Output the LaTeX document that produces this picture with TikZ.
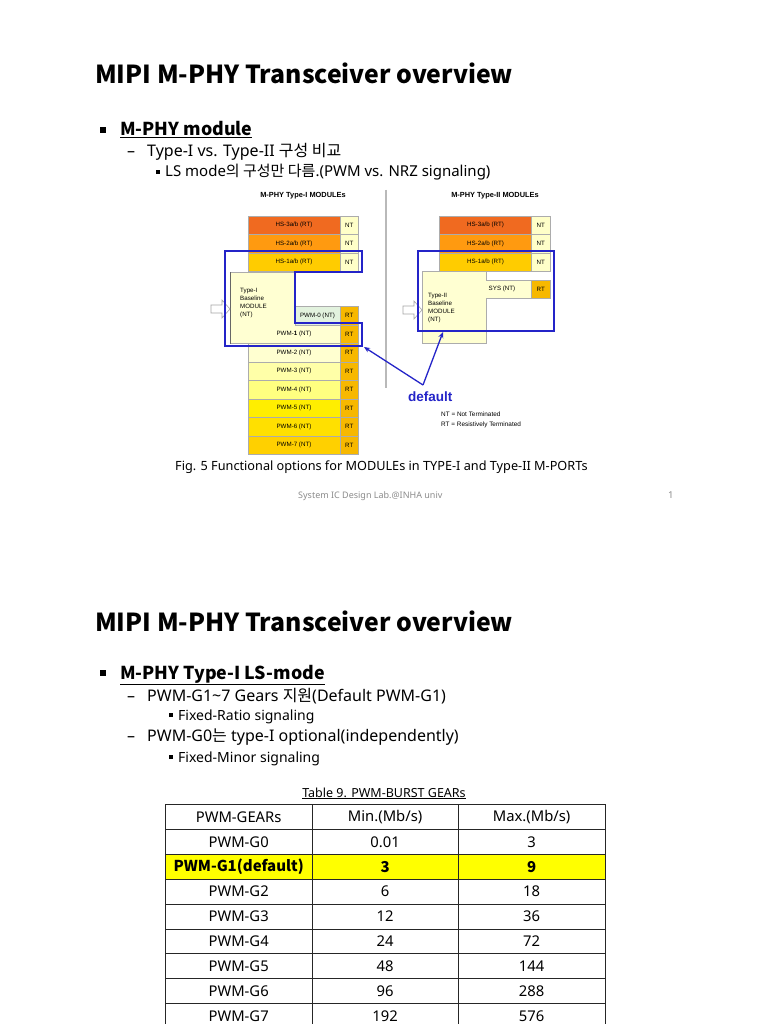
\documentclass[tikz,border=0pt]{standalone}
\usepackage{fontspec}
\setmainfont{Noto Sans}
\newfontfamily\kr{Noto Sans CJK KR}
\newfontfamily\arialfont{Liberation Sans}
\usetikzlibrary{matrix,arrows.meta}
\definecolor{cblue}{HTML}{2424C8}
\definecolor{cgrey}{HTML}{8C8C8C}
\definecolor{cream}{HTML}{FFFFD2}
\definecolor{mint}{HTML}{E2F2DE}
\definecolor{hsthree}{HTML}{F06A20}
\definecolor{hstwo}{HTML}{FF9A10}
\definecolor{hsone}{HTML}{FFCC00}
\definecolor{ntcol}{HTML}{FFFFC8}
\definecolor{rtcol}{HTML}{F7B800}
\definecolor{pwmtwo}{HTML}{FFFFD0}
\definecolor{pwmthree}{HTML}{FFFFA8}
\definecolor{pwmfour}{HTML}{FFFF80}
\definecolor{pwmfive}{HTML}{FFEE00}
\definecolor{pwmsix}{HTML}{FFE000}
\definecolor{pwmseven}{HTML}{FFD000}
\definecolor{hiyellow}{HTML}{FFFF00}

\begin{document}
\begin{tikzpicture}[x=1pt,y=-1pt,
  stitle/.style={anchor=base west,inner sep=0,font=\kr\fontsize{24.8}{30}\selectfont\bfseries},
  lvlone/.style={anchor=base west,inner sep=0,font=\kr\fontsize{17.8}{20}\selectfont\bfseries},
  lvltwo/.style={anchor=base west,inner sep=0,font=\fontsize{16}{18}\selectfont},
  lvlthree/.style={anchor=base west,inner sep=0,font=\fontsize{14}{16}\selectfont},
  modbox/.style={draw=gray!65,line width=0.4pt,minimum width=92pt,minimum height=18.5pt,
    inner sep=0,font=\arialfont\fontsize{6.2}{7}\selectfont},
  termbox/.style={modbox,minimum width=18.5pt},
  basetext/.style={anchor=north west,inner sep=0,align=left,
    font=\arialfont\fontsize{6.2}{8}\selectfont},
  outline/.style={cblue,line width=1.4pt},
  blockarrow/.style={draw=gray!70,fill=white,line width=0.6pt},
  pointer/.style={cblue,line width=1.3pt,-{Stealth[length=6pt,width=5pt]}}]
  \useasboundingbox[fill=white] (0,0) rectangle (768,1024);

  % slide 1
  \node[stitle] (t1) at (95,84) {MIPI M-PHY Transceiver overview};
  \node[lvlone] (a1) at (100,136) {\rule[3pt]{6pt}{6pt}\hspace{14pt}\underline{M-PHY module}};
  \node[lvltwo] (a2) at (127,157) {–\hspace{12pt}Type-I vs. Type-II {\kr 구성 비교}};
  \node[lvlthree,font=\fontsize{15}{17}\selectfont] (a3) at (156,177) {\rule[3pt]{4pt}{4pt}\hspace{5pt}LS mode{\kr 의 구성만 다름}.(PWM vs. NRZ signaling)};

  % Type-I modules
  \node[font=\arialfont\bfseries\fontsize{7.4}{8}\selectfont] (ltitle) at (303,196) {M-PHY Type-I MODULEs};
  \node[modbox,fill=hsthree] (lhs3) at (294,225.25) {HS-3a/b (RT)};
  \node[termbox,fill=ntcol] (lhs3t) at (349.25,225.25) {NT};
  \node[modbox,fill=hstwo] (lhs2) at (294,243.75) {HS-2a/b (RT)};
  \node[termbox,fill=ntcol] (lhs2t) at (349.25,243.75) {NT};
  \node[modbox,fill=hsone] (lhs1) at (294,262.25) {HS-1a/b (RT)};
  \node[termbox,fill=ntcol] (lhs1t) at (349.25,262.25) {NT};
  \node[modbox,fill=pwmtwo] (lp2) at (294,352.75) {PWM-2 (NT)};
  \node[termbox,fill=rtcol] (lp2t) at (349.25,352.75) {RT};
  \node[modbox,fill=pwmthree] (lp3) at (294,371.25) {PWM-3 (NT)};
  \node[termbox,fill=rtcol] (lp3t) at (349.25,371.25) {RT};
  \node[modbox,fill=pwmfour] (lp4) at (294,389.75) {PWM-4 (NT)};
  \node[termbox,fill=rtcol] (lp4t) at (349.25,389.75) {RT};
  \node[modbox,fill=pwmfive] (lp5) at (294,408.25) {PWM-5 (NT)};
  \node[termbox,fill=rtcol] (lp5t) at (349.25,408.25) {RT};
  \node[modbox,fill=pwmsix] (lp6) at (294,426.75) {PWM-6 (NT)};
  \node[termbox,fill=rtcol] (lp6t) at (349.25,426.75) {RT};
  \node[modbox,fill=pwmseven] (lp7) at (294,445.25) {PWM-7 (NT)};
  \node[termbox,fill=rtcol] (lp7t) at (349.25,445.25) {RT};
  \draw[draw=gray!65,fill=cream] (230,272) -- (295,272) -- (295,325) -- (340,325)
    -- (340,343.5) -- (230,343.5) -- cycle;
  \draw[gray!80!black,line width=0.8pt] (230,272) -- (230,343.5);
  \node[modbox,fill=mint,minimum width=45pt] (lp0) at (317.5,315.75) {PWM-0 (NT)};
  \node[termbox,fill=rtcol] (lp0t) at (349.25,315.75) {RT};
  \node[modbox,draw=none] (lp1) at (294,334.25) {PWM-\textbf{1} (NT)};
  \node[termbox,fill=rtcol] (lp1t) at (349.25,334.25) {RT};
  \node[basetext] (lbase) at (240,288) {Type-I\\Baseline\\MODULE\\(NT)};
  \draw[blockarrow] (211,305) -- (222,305) -- (222,300) -- (230,309) -- (222,318)
    -- (222,313) -- (211,313) -- cycle;
  \draw[outline] (225,251) -- (362,251) -- (362,272) -- (295,272) -- (295,323)
    -- (362,323) -- (362,346) -- (225,346) -- cycle;

  \draw[gray!55,line width=1.2pt] (386,190) -- (386,388);

  % Type-II modules
  \node[font=\arialfont\bfseries\fontsize{7.4}{8}\selectfont] (rtitle) at (495,196) {M-PHY Type-II MODULEs};
  \node[modbox,fill=hsthree] (rhs3) at (485.5,225.25) {HS-3a/b (RT)};
  \node[termbox,fill=ntcol] (rhs3t) at (540.75,225.25) {NT};
  \node[modbox,fill=hstwo] (rhs2) at (485.5,243.75) {HS-2a/b (RT)};
  \node[termbox,fill=ntcol] (rhs2t) at (540.75,243.75) {NT};
  \node[modbox,fill=hsone] (rhs1) at (485.5,262.25) {HS-1a/b (RT)};
  \node[termbox,fill=ntcol] (rhs1t) at (540.75,262.25) {NT};
  \draw[draw=gray!65,fill=cream] (422,271.5) -- (486,271.5) -- (486,280) -- (531.5,280)
    -- (531.5,298) -- (486,298) -- (486,343.5) -- (422,343.5) -- cycle;
  \node[inner sep=0,font=\arialfont\fontsize{6.2}{7}\selectfont] (rsys) at (502,289) {SYS (NT)};
  \node[termbox,fill=rtcol,minimum height=18pt] (rsyst) at (540.75,289) {RT};
  \node[basetext] (rbase) at (428,293) {Type-II\\Baseline\\MODULE\\(NT)};
  \draw[blockarrow] (403,306) -- (414,306) -- (414,301) -- (422,310) -- (414,319)
    -- (414,314) -- (403,314) -- cycle;
  \draw[outline] (418,251) rectangle (554,331);

  \node[anchor=base west,inner sep=0,text=cblue,font=\arialfont\bfseries\fontsize{13.5}{15}\selectfont] (dflt) at (408,401) {default};
  \coordinate (dv) at (423,385);
  \coordinate (dl) at (364,347);
  \coordinate (dr) at (443,332);
  \draw[pointer] (dv) -- (dl);
  \draw[pointer] (dv) -- (dr);
  \node[basetext,font=\arialfont\fontsize{6.4}{9.5}\selectfont] (legend) at (441,412) {NT = Not Terminated\\RT = Resistively Terminated};

  \node[anchor=base west,inner sep=0,font=\fontsize{12.7}{14}\selectfont] (cap) at (175,470) {Fig. 5 Functional options for MODULEs in TYPE-I and Type-II M-PORTs};
  \node[anchor=base west,inner sep=0,text=cgrey,font=\fontsize{9}{10}\selectfont] (foot) at (298,498) {System IC Design Lab.@INHA univ};
  \node[anchor=base west,inner sep=0,text=cgrey,font=\fontsize{9.5}{10}\selectfont] (page) at (668,498) {1};

  % slide 2
  \node[stitle] (t2) at (95,631) {MIPI M-PHY Transceiver overview};
  \node[lvlone] (b1) at (100,679) {\rule[3pt]{6pt}{6pt}\hspace{14pt}\underline{M-PHY Type-I LS-mode}};
  \node[lvltwo] (b2) at (127,701) {–\hspace{12pt}PWM-G1\textasciitilde 7 Gears {\kr 지원}(Default PWM-G1)};
  \node[lvlthree] (b3) at (169,720) {\rule[3pt]{4pt}{4pt}\hspace{5pt}Fixed-Ratio signaling};
  \node[lvltwo] (b4) at (127,741) {–\hspace{12pt}PWM-G0{\kr 는} type-I optional(independently)};
  \node[lvlthree] (b5) at (169,762) {\rule[3pt]{4pt}{4pt}\hspace{5pt}Fixed-Minor signaling};

  \node[anchor=base,inner sep=0,font=\fontsize{12.5}{14}\selectfont] (tcap) at (384,797) {\underline{Table 9. PWM-BURST GEARs}};
  \matrix (gears) [matrix of nodes,anchor=north west,inner sep=0,outer sep=0,
    column sep=-0.8pt,row sep=-0.8pt,
    nodes={draw=black!85,line width=0.8pt,minimum width=146.5pt,minimum height=24.9pt,
      inner sep=0,anchor=center,font=\fontsize{14.8}{16}\selectfont},
    row 3/.style={nodes={fill=hiyellow,font=\kr\fontsize{15}{16}\selectfont\bfseries}}]
    at (165,804) {
    PWM-GEARs & Min.(Mb/s) & Max.(Mb/s) \\
    PWM-G0 & 0.01 & 3 \\
    PWM-G1(default) & 3 & 9 \\
    PWM-G2 & 6 & 18 \\
    PWM-G3 & 12 & 36 \\
    PWM-G4 & 24 & 72 \\
    PWM-G5 & 48 & 144 \\
    PWM-G6 & 96 & 288 \\
    PWM-G7 & 192 & 576 \\
  };
\end{tikzpicture}
\end{document}
